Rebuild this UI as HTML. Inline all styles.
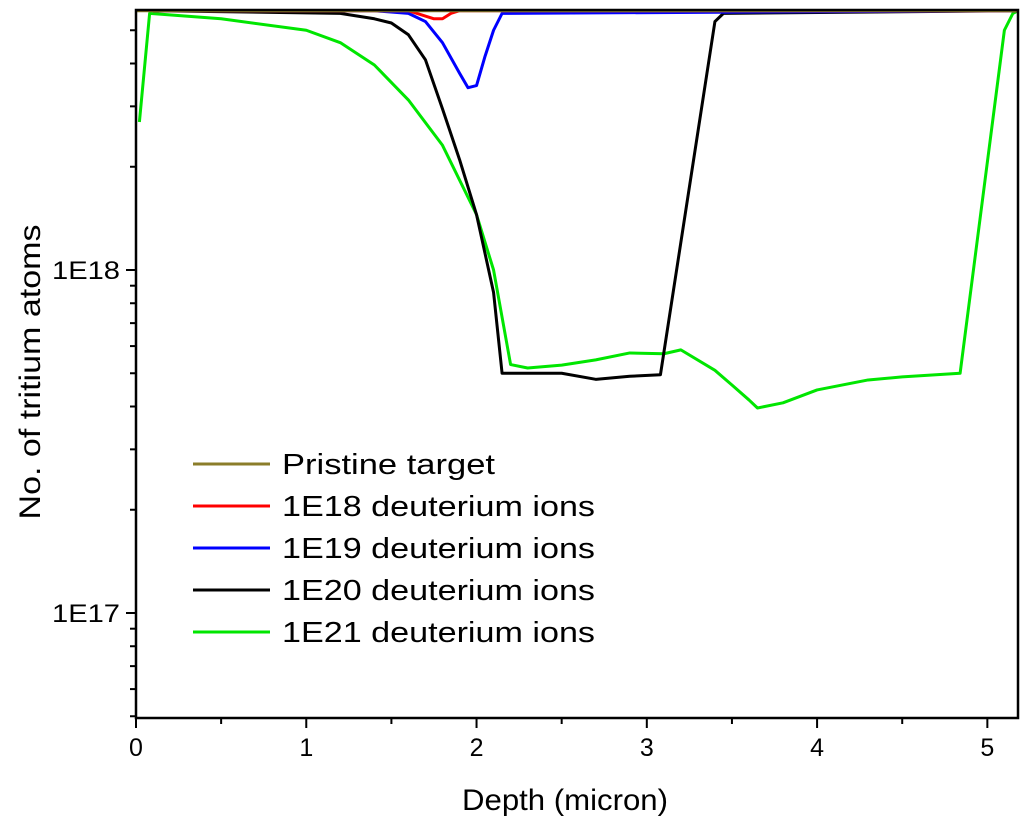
<!DOCTYPE html>
<html><head><meta charset="utf-8"><style>
body{margin:0;background:#fff}
svg{display:block;font-family:"Liberation Sans",Arial,sans-serif}
</style></head><body>
<svg id="c" width="1025" height="824"></svg>
<script>
const xTicks=[0,1,2,3,4,5];
const yLabels=["1E17","1E18"];
const xPristine=[0,5.18];
const vPristine=[5.7e18,5.7e18];
const x1E18=[0.1,1.6,1.75,1.8,1.85,1.9,5.18];
const v1E18=[5.7e18,5.7e18,5.4e18,5.4e18,5.6e18,5.7e18,5.7e18];
const x1E19=[0.1,1.4,1.6,1.7,1.8,1.9,1.95,2.0,2.05,2.1,2.15,5.18];
const v1E19=[5.7e18,5.7e18,5.6e18,5.3e18,4.6e18,3.75e18,3.4e18,3.45e18,4.2e18,5.0e18,5.6e18,5.7e18];
const x1E20=[0.1,1.2,1.4,1.5,1.6,1.7,1.8,1.9,2.0,2.1,2.15,2.3,2.5,2.7,2.9,3.08,3.4,3.45,5.18];
const v1E20=[5.7e18,5.6e18,5.4e18,5.25e18,4.85e18,4.1e18,2.95e18,2.1e18,1.45e18,8.6e17,5.0e17,5.0e17,5.0e17,4.8e17,4.9e17,4.95e17,5.3e18,5.6e18,5.7e18];
const x1E21=[0.02,0.08,0.5,1.0,1.2,1.4,1.6,1.8,2.0,2.1,2.2,2.3,2.5,2.7,2.9,3.1,3.2,3.4,3.5,3.6,3.65,3.8,4.0,4.3,4.5,4.84,5.1,5.15,5.18];
const v1E21=[2.7e18,5.6e18,5.4e18,5.0e18,4.6e18,3.96e18,3.13e18,2.31e18,1.45e18,1.0e18,5.3e17,5.18e17,5.28e17,5.47e17,5.73e17,5.7e17,5.85e17,5.1e17,4.62e17,4.18e17,3.96e17,4.1e17,4.47e17,4.78e17,4.88e17,5.0e17,5.0e18,5.6e18,5.7e18];
const seriesNames=["Pristine target","1E18 deuterium ions","1E19 deuterium ions","1E20 deuterium ions","1E21 deuterium ions"];
const colors=["#8b7d2a","#ff0000","#0000ff","#000000","#00e600"];

const L=136,R=1018,T=10,B=718,xmax=5.18;
const yDec=343, y18=270;
const X=v=>L+v/xmax*(R-L);
const Y=v=>y18-(Math.log10(v)-18)*yDec;
const svg=document.getElementById('c');
const NS='http://www.w3.org/2000/svg';
function mk(t,a,p){const e=document.createElementNS(NS,t);for(const k in a)e.setAttribute(k,a[k]);(p||svg).appendChild(e);return e;}
const clip=mk('clipPath',{id:'pc'});mk('rect',{x:L,y:T,width:R-L,height:B-T},clip);
const sets=[[xPristine,vPristine],[x1E18,v1E18],[x1E19,v1E19],[x1E20,v1E20],[x1E21,v1E21]];
const slugs=['pristine','1e18','1e19','1e20','1e21'];
[4,3,2,1,0].forEach(i=>{
 const [xs,vs]=sets[i];
 const p=mk('polyline',{points:xs.map((x,j)=>X(x)+','+Y(vs[j])).join(' '),fill:'none',stroke:colors[i],'stroke-width':3,'clip-path':'url(#pc)','stroke-linejoin':'round'});
 
 
});
const fr=mk('rect',{x:L,y:T,width:R-L,height:B-T,fill:'none',stroke:'#000','stroke-width':2.5});


xTicks.forEach(t=>{
 mk('line',{x1:X(t),x2:X(t),y1:B,y2:B+10,stroke:'#000','stroke-width':2});
 const tx=mk('text',{x:X(t),y:B+38,'text-anchor':'middle','font-size':25});tx.textContent=t;
 
 
 if(t+0.5<=xmax)mk('line',{x1:X(t+0.5),x2:X(t+0.5),y1:B,y2:B+6,stroke:'#000','stroke-width':2});
});
for(let e=16;e<=18;e++)for(let m=1;m<10;m++){
 const v=m*Math.pow(10,e),y=Y(v);if(y<T||y>B)continue;
 mk('line',{x1:L-(m==1?10:6),x2:L,y1:y,y2:y,stroke:'#000','stroke-width':2});
}
yLabels.forEach((s,i)=>{const tx=mk('text',{x:L-16,y:Y(i==0?1e17:1e18)+9,'text-anchor':'end','font-size':25,textLength:68,lengthAdjust:'spacingAndGlyphs'});tx.textContent=s;
 
 });
const xl=mk('text',{x:565,y:810,'text-anchor':'middle','font-size':30,textLength:206,lengthAdjust:'spacingAndGlyphs'});xl.textContent='Depth (micron)';


const yl=mk('text',{x:0,y:0,'text-anchor':'middle','font-size':30,textLength:295,lengthAdjust:'spacingAndGlyphs',transform:'translate(40,372) rotate(-90)'});yl.textContent='No. of tritium atoms';


const legW=[213,313,313,313,313];
seriesNames.forEach((n,i)=>{
 const y=464+i*42;
 const g=mk('g',{});
 
 
 mk('line',{x1:193,x2:270,y1:y,y2:y,stroke:colors[i],'stroke-width':3},g);
 const t=mk('text',{x:282,y:y+10,'font-size':29,textLength:legW[i],lengthAdjust:'spacingAndGlyphs'},g);t.textContent=n;
});
</script>
</body></html>
